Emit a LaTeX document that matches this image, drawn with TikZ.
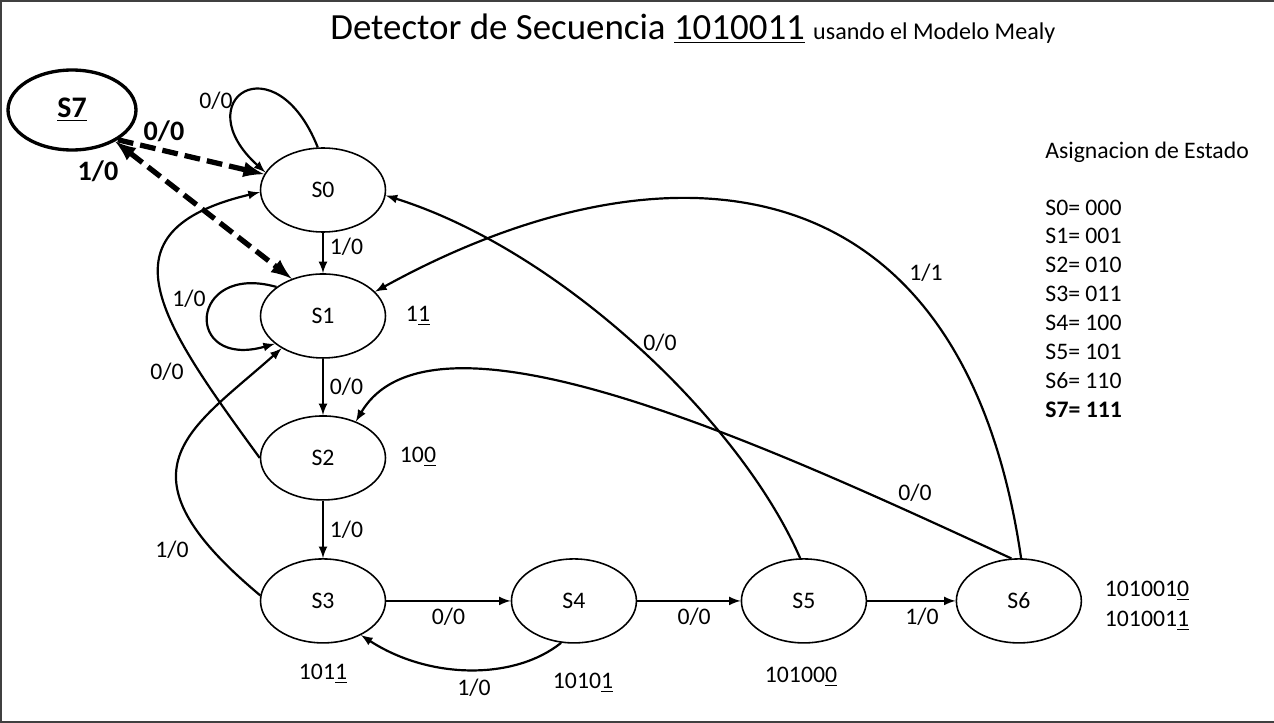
\documentclass[tikz,border=0pt]{standalone}
\usepackage{fontspec}
\setmainfont{Carlito}
\usetikzlibrary{positioning,shapes.geometric}

\tikzset{
  state/.style={draw, ellipse, line width=0.9pt, minimum width=2.5cm, minimum height=1.68cm, font=\fontsize{13.5}{16}\selectfont},
  trans/.style={-latex, line width=1.25pt},
  jump/.style={-latex, line width=3pt, dash pattern=on 9pt off 4pt},
  lbl/.style={font=\fontsize{13.5}{16}\selectfont},
  blbl/.style={font=\fontsize{16}{19}\selectfont\bfseries},
}

\begin{document}
\begin{tikzpicture}[x=0.02cm, y=0.02cm, on grid]
\useasboundingbox (0,0) rectangle (1274,-723);
\draw[line width=1.4pt, black!75] (1274,-0.7) -- (0.7,-0.7) -- (0.7,-722) -- (1274,-722);

\node[anchor=base west, inner sep=0pt] (title) at (330,-40) {\fontsize{21}{25}\selectfont Detector de Secuencia \underline{1010011} {\fontsize{13.7}{16}\selectfont usando el Modelo Mealy}};

% estados
\node[state] (S0) at (323,-190) {S0};
\node[state, below=2.52cm of S0] (S1) {S1};
\node[state, below=2.84cm of S1] (S2) {S2};
\node[state, below=2.86cm of S2] (S3) {S3};
\node[state, right=5.02cm of S3] (S4) {S4};
\node[state, right=4.6cm of S4] (S5) {S5};
\node[state, right=4.3cm of S5] (S6) {S6};
\node[state, line width=1.9pt, minimum width=2.56cm, minimum height=1.6cm, font=\fontsize{17}{20}\selectfont\bfseries] (S7) at (72,-110) {\underline{S7}};

% transiciones rectas
\path[trans] (S0) edge node[lbl, right, pos=.35] {1/0} (S1);
\path[trans] (S1) edge node[lbl, right] {0/0} (S2);
\path[trans] (S2) edge node[lbl, right] {1/0} (S3);
\path[trans] (S3) edge node[lbl, below] {0/0} (S4);
\path[trans] (S4) edge node[lbl, below, pos=.55] {0/0} (S5);
\path[trans] (S5) edge node[lbl, below, pos=.62] {1/0} (S6);

% lazos
\draw[trans] (S0.97) .. controls (275,-40) and (185,-100) .. (S0.163);
\node[lbl] (l00) at (216,-101) {0/0};
\draw[trans] (S1.148) .. controls (188,-262) and (183,-370) .. (S1.210);
\node[lbl] (l11) at (189,-299) {1/0};

% curvas
\draw[trans] (S2.180) .. controls (160,-321) and (96,-231) .. (S0.182);
\node[lbl] (l20) at (167,-372) {0/0};
\draw[trans] (S3.175) .. controls (110,-470) and (190,-430) .. (S1.218);
\node[lbl] (l31) at (172,-550) {1/0};
\draw[trans] (S4.253) .. controls (515,-680) and (430,-680) .. (S3.318);
\node[lbl] (l43) at (474,-688) {1/0};
\draw[trans] (S5.95) .. controls (740,-420) and (560,-250) .. (S0.355);
\node[lbl] (l50) at (660,-343) {0/0};
\draw[trans] (S6.87) .. controls (960,-140) and (650,-140) .. (S1.25);
\node[lbl] (l61) at (926,-273) {1/1};
\draw[trans] (S6.100) .. controls (780,-452) and (434,-289) .. (S2.48);
\node[lbl] (l62) at (915,-493) {0/0};

% estado S7
\draw[jump] (S7.-33) -- (S0.165);
\draw[jump, latex-latex] (S7.-36) -- (S1.130);
\node[blbl] (l70) at (164,-131) {0/0};
\node[blbl] (l71) at (98,-171) {1/0};

% secuencias
\node[lbl] (q1) at (418,-316) {1\underline{1}};
\node[lbl] (q2) at (418,-457) {10\underline{0}};
\node[lbl] (q3) at (323,-674) {101\underline{1}};
\node[lbl] (q4) at (583,-683) {1010\underline{1}};
\node[lbl] (q5) at (801,-677) {10100\underline{0}};
\node[lbl] (q6) at (1147,-591) {101001\underline{0}};
\node[lbl] (q7) at (1147,-621) {101001\underline{1}};

% asignacion de estado
\node[lbl, anchor=base west, inner sep=0pt] (asig) at (1045,-158) {Asignacion de Estado};
\foreach \s/\c [count=\i from 0] in {S0/000, S1/001, S2/010, S3/011, S4/100, S5/101, S6/110}
  \node[lbl, anchor=base west, inner sep=0pt] at (1045,{-215-28.9*\i}) {\s= \c};
\node[lbl, anchor=base west, inner sep=0pt] (asig7) at (1045,-417) {\textbf{S7= 111}};
\end{tikzpicture}
\end{document}
